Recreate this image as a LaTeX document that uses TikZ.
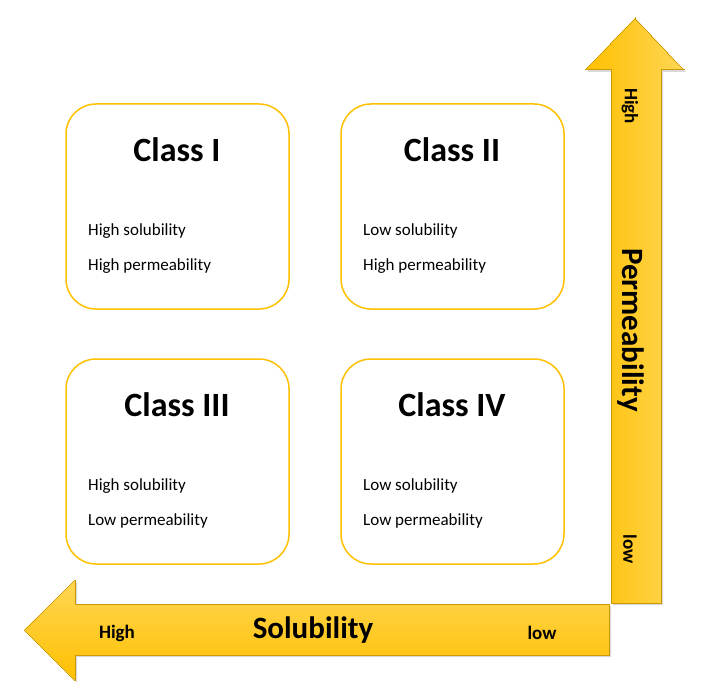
\documentclass[tikz,border=0pt]{standalone}
\usepackage{fontspec}
\setmainfont{Carlito}
\usetikzlibrary{shadows}
\definecolor{gold}{HTML}{FFC000}
\definecolor{lgold}{HTML}{FFE07A}
\begin{document}
\begin{tikzpicture}[x=1pt,y=-1pt,
  box/.style={draw=gold,line width=1.5pt,rounded corners=30pt,fill=white},
  ttl/.style={font=\fontsize{34}{40}\selectfont\bfseries},
  txt/.style={font=\fontsize{17}{20}\selectfont,anchor=west,inner sep=0pt},
  arr/.style={line width=0pt,draw=gold!80!black,drop shadow={shadow xshift=2pt,shadow yshift=-2pt,opacity=0.3}},
  ax/.style={font=\fontsize{31}{36}\selectfont\bfseries},
  lv/.style={font=\fontsize{19}{22}\selectfont\bfseries}]
\useasboundingbox (0,0) rectangle (701,695);
% boxes
\foreach \n/\x/\y/\t/\a/\b in {b1/66/104/Class I/High solubility/High permeability,
  b2/341/104/Class II/Low solubility/High permeability,
  b3/66/359/Class III/High solubility/Low permeability,
  b4/341/359/Class IV/Low solubility/Low permeability}{
  \draw[box] (\x,\y) rectangle ++(223,205);
  \node[ttl] (\n t) at (\x+111,\y+46) {\t};
  \node[txt] (\n a) at (\x+22,\y+127) {\a};
  \node[txt] (\n b) at (\x+22,\y+162) {\b};
}
% vertical arrow
\shade[arr,left color=gold,right color=lgold!70!gold]
  (611,603) -- (611,70) -- (585,70) -- (635,18) -- (684,70) -- (661,70) -- (661,603) -- cycle;
% horizontal arrow
\shade[arr,top color=lgold!70!gold,bottom color=gold]
  (609,604) -- (75,604) -- (75,580) -- (24,630) -- (75,680) -- (75,655) -- (609,655) -- cycle;
\node[ax,rotate=-90] (perm) at (631,330) {Permeability};
\node[lv,rotate=-90] (ph) at (630,106) {High};
\node[lv,rotate=-90] (pl) at (630,549) {low};
\node[ax] (sol) at (313,630) {Solubility};
\node[lv] (sh) at (117,633) {High};
\node[lv] (sl) at (542,633) {low};
\end{tikzpicture}
\end{document}
